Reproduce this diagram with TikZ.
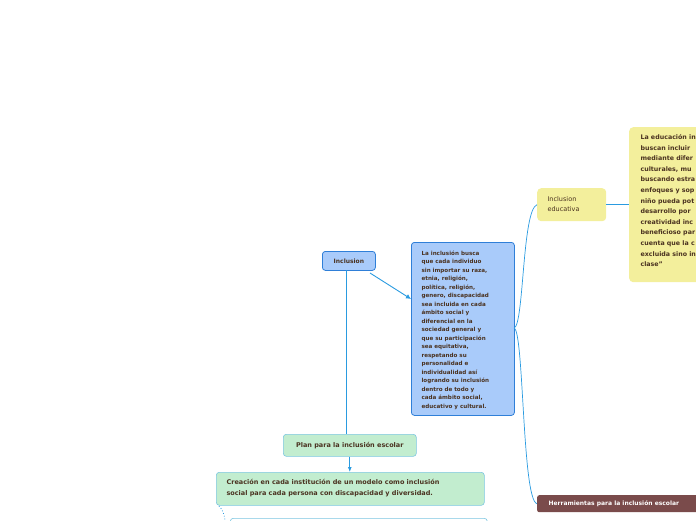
\documentclass[tikz,border=0pt]{standalone}
\usepackage{fontspec}
\setmainfont{DejaVu Sans}
\usetikzlibrary{arrows.meta}
\definecolor{bfill}{HTML}{A9CBFA}
\definecolor{bline}{HTML}{2F7FD8}
\definecolor{yfill}{HTML}{F3EF9C}
\definecolor{gfill}{HTML}{C2EDCF}
\definecolor{gline}{HTML}{7CC6E0}
\definecolor{txt}{HTML}{4A3220}
\definecolor{brown}{HTML}{7A4B4B}
\definecolor{conn}{HTML}{2A9BE0}
\tikzset{
 every node/.style={font=\bfseries\fontsize{6}{8}\selectfont,text=txt},
 bluebox/.style={draw=bline,fill=bfill,rounded corners=3pt,line width=0.8pt,align=left,anchor=north west,inner sep=0pt},
 yelbox/.style={fill=yfill,rounded corners=4pt,align=left,anchor=north west,inner sep=0pt},
 grnbox/.style={draw=gline,fill=gfill,rounded corners=3pt,line width=0.6pt,align=left,anchor=north west,inner sep=0pt},
 link/.style={draw=conn,line width=0.9pt},
}
\begin{document}
\begin{tikzpicture}[x=1pt,y=-1pt]
\useasboundingbox (0,0) rectangle (696,520);
\clip (0,0) rectangle (696,520);
% nodes
\node[bluebox,minimum width=53pt,minimum height=19pt] (inc) at (322,251) {};
\node at (inc.center) {Inclusion};
\node[bluebox,minimum width=103pt,minimum height=173pt] (big) at (411,242) {};
\node[anchor=north west,align=left,font=\bfseries\fontsize{5.6}{8.5}\selectfont] at (418,247) {La inclusión busca\\que cada individuo\\sin importar su raza,\\etnia, religión,\\política, religión,\\genero, discapacidad\\sea incluida en cada\\ámbito social y\\diferencial en la\\sociedad general y\\que su participación\\sea equitativa,\\respetando su\\personalidad e\\individualidad así\\logrando su inclusión\\dentro de todo y\\cada ámbito social,\\educativo y cultural.};
\node[yelbox,minimum width=69pt,minimum height=33pt] (edu) at (537,188) {};
\node[anchor=west,align=left,font=\fontsize{6.5}{10.5}\selectfont] at (544,204) {Inclusion\\educativa};
\node[yelbox,minimum width=90pt,minimum height=155pt] (yel) at (629,127) {};
\node[anchor=north west,align=left,font=\bfseries\fontsize{6.3}{10.6}\selectfont] at (637,131) {La educación in\\buscan incluir\\mediante difer\\culturales, mu\\buscando estra\\enfoques y sop\\niño pueda pot\\desarrollo por\\creatividad  inc\\beneficioso par\\cuenta que la c\\excluida sino in\\clase''};
\node[grnbox,minimum width=133pt,minimum height=22pt] (plan) at (283,434) {};
\node[font=\bfseries\fontsize{6.5}{8}\selectfont] at (plan.center) {Plan para la inclusión escolar};
\node[grnbox,minimum width=268pt,minimum height=33pt] (cre) at (216,472) {};
\node[anchor=west,align=left,font=\bfseries\fontsize{6.5}{11}\selectfont] at (223,488.5) {Creación en cada institución de un modelo como inclusión\\social para cada persona con discapacidad y diversidad.};
\node[fill=brown,rounded corners=2pt,anchor=north west,minimum width=165pt,minimum height=17pt,inner sep=0pt] (her) at (537,495) {};
\node[anchor=west,text=white,font=\bfseries\fontsize{6}{8}\selectfont] at (545,503.5) {Herramientas para la inclusión escolar};
\node[draw=gline,fill=white,rounded corners=3pt,line width=0.6pt,anchor=north west,minimum width=257pt,minimum height=20pt,inner sep=0pt] (low) at (230,518) {};
% connectors
\draw[link] (346,270) -- (plan.north -| 346,0);
\draw[link,-{Latex[length=5pt,width=5pt]}] (370,273) -- (big.west |- 0,299);
\draw[link,-{Latex[length=5pt,width=4pt]}] (plan.south) -- (cre.north -| plan.south);
\coordinate (bj) at (514,328);
\draw[link,line width=0.7pt] (bj) .. controls (524,326) and (522,210) .. (edu.west);
\draw[link,line width=0.7pt] (bj) .. controls (524,330) and (522,500) .. (her.west);
\draw[link,line width=0.7pt] (edu.east) -- (yel.west |- edu.east);
\draw[conn,line width=0.8pt,dotted] (219,506) .. controls (223,510) and (224,514) .. (225,520);
\end{tikzpicture}
\end{document}
